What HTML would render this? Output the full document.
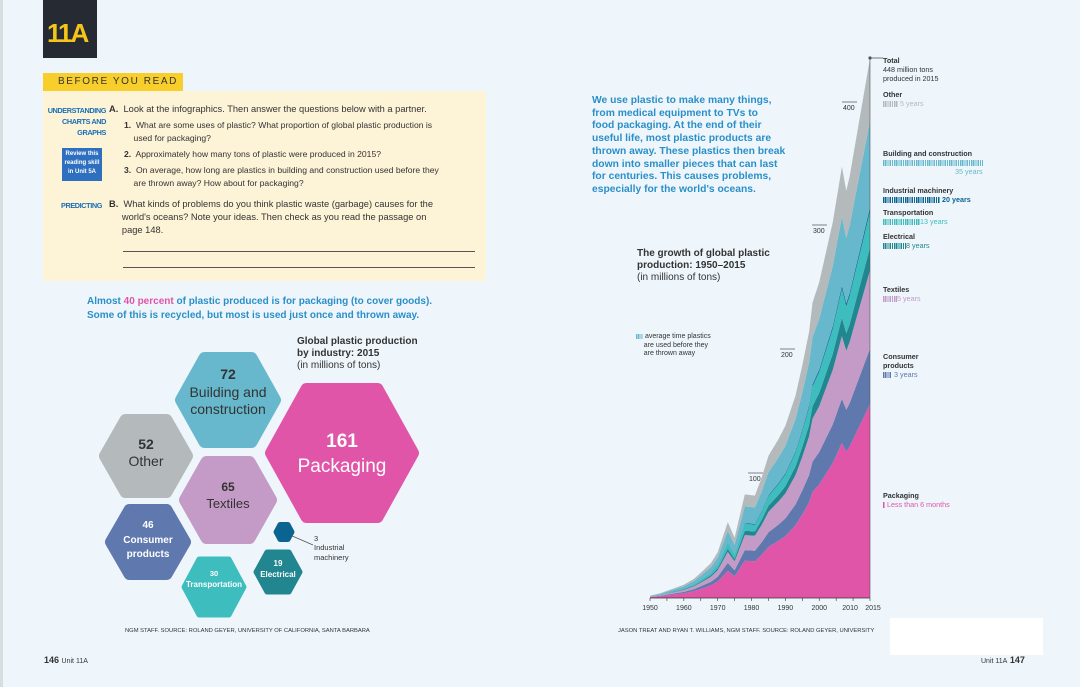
<!DOCTYPE html>
<html><head><meta charset="utf-8"><style>
body{margin:0;width:1080px;height:687px;overflow:hidden;background:#eef6fc;font-family:"Liberation Sans",sans-serif;position:relative}
.a{position:absolute;white-space:nowrap}
.lab{font-size:7.3px;color:#1a6fb5;font-weight:bold;text-align:right;letter-spacing:-0.4px;line-height:11px}
.q{font-size:9.3px;color:#333;line-height:13px}
.rl{font-size:7.2px;color:#333;font-weight:bold;line-height:9px}
.bar{display:inline-block;height:6px;vertical-align:middle;background:repeating-linear-gradient(90deg,currentColor 0 1.3px,transparent 1.3px 2.2px)}
</style></head><body>
<div class="a" style="left:0;top:0;width:3px;height:687px;background:#d8dde0"></div>
<div class="a" style="left:43px;top:0;width:54px;height:58px;background:#262a33"></div>
<div class="a" style="left:47px;top:18px;font-size:26px;font-weight:bold;color:#f5c518;letter-spacing:-2px">11A</div>
<div class="a" style="left:43px;top:73px;width:140px;height:18px;background:#f8cf2a"></div>
<div class="a" style="left:58px;top:76px;font-size:10px;letter-spacing:1.6px;color:#333">BEFORE YOU READ</div>
<div class="a" style="left:43px;top:91px;width:443px;height:190px;background:#fdf3d7"></div>
<div class="a lab" style="left:44px;top:105px;width:62px">UNDERSTANDING<br>CHARTS AND<br>GRAPHS</div>
<div class="a" style="left:62px;top:148px;width:40px;height:31px;background:#2f6fc0;color:#fff;font-size:6px;font-weight:bold;text-align:center;line-height:9px;padding-top:2px">Review this<br>reading skill<br>in Unit 5A</div>
<div class="a lab" style="left:44px;top:200px;width:58px">PREDICTING</div>
<div class="a q" style="left:109px;top:103px"><b>A.</b>&nbsp; Look at the infographics. Then answer the questions below with a partner.</div>
<div class="a q" style="left:124px;top:119px;font-size:8.6px;line-height:13px"><b>1.</b>&nbsp; What are some uses of plastic? What proportion of global plastic production is<br>&nbsp;&nbsp;&nbsp;&nbsp;used for packaging?</div>
<div class="a q" style="left:124px;top:148px;font-size:8.6px"><b>2.</b>&nbsp; Approximately how many tons of plastic were produced in 2015?</div>
<div class="a q" style="left:124px;top:164px;font-size:8.6px;line-height:13px"><b>3.</b>&nbsp; On average, how long are plastics in building and construction used before they<br>&nbsp;&nbsp;&nbsp;&nbsp;are thrown away? How about for packaging?</div>
<div class="a q" style="left:109px;top:198px"><b>B.</b>&nbsp; What kinds of problems do you think plastic waste (garbage) causes for the<br>&nbsp;&nbsp;&nbsp;&nbsp;&nbsp;world's oceans? Note your ideas. Then check as you read the passage on<br>&nbsp;&nbsp;&nbsp;&nbsp;&nbsp;page 148.</div>
<div class="a" style="left:123px;top:251px;width:352px;border-top:1px solid #555"></div>
<div class="a" style="left:123px;top:267px;width:352px;border-top:1px solid #555"></div>
<div class="a" style="left:87px;top:295px;font-size:10px;font-weight:bold;color:#2a8fc8;line-height:13.5px">Almost <span style="color:#e055a8">40 percent</span> of plastic produced is for packaging (to cover goods).<br>Some of this is recycled, but most is used just once and thrown away.</div>
<div class="a" style="left:297px;top:336px;font-size:10px;color:#333;line-height:12px"><b>Global plastic production<br>by industry: 2015</b><br>(in millions of tons)</div>
<svg class="a" style="left:0;top:0" width="1080" height="687" id="s">
<g stroke-linejoin="round" id="hex"></g>
<line x1="290" y1="535" x2="313" y2="545" stroke="#555" stroke-width="0.8"/>
<g font-family="Liberation Sans" text-anchor="middle">
<text x="228" y="379" font-size="14" font-weight="bold" fill="#333">72</text>
<text x="228" y="397" font-size="14" fill="#333">Building and</text>
<text x="228" y="414" font-size="14" fill="#333">construction</text>
<text x="146" y="449" font-size="14" font-weight="bold" fill="#333">52</text>
<text x="146" y="466" font-size="14" fill="#333">Other</text>
<text x="342" y="447" font-size="19" font-weight="bold" fill="#fff">161</text>
<text x="342" y="472" font-size="19" fill="#fff">Packaging</text>
<text x="228" y="491" font-size="12" font-weight="bold" fill="#333">65</text>
<text x="228" y="508" font-size="13" fill="#333">Textiles</text>
<text x="148" y="528" font-size="10" font-weight="bold" fill="#fff">46</text>
<text x="148" y="543" font-size="10" font-weight="bold" fill="#fff">Consumer</text>
<text x="148" y="557" font-size="10" font-weight="bold" fill="#fff">products</text>
<text x="214" y="576" font-size="7.5" font-weight="bold" fill="#fff">30</text>
<text x="214" y="587" font-size="8" font-weight="bold" fill="#fff">Transportation</text>
<text x="278" y="566" font-size="8" font-weight="bold" fill="#fff">19</text>
<text x="278" y="577" font-size="8" font-weight="bold" fill="#fff">Electrical</text>
</g>
<g font-family="Liberation Sans" font-size="7.5" fill="#333">
<text x="314" y="541">3</text><text x="314" y="550">Industrial</text><text x="314" y="560">machinery</text>
</g>
<g id="chart"></g>
</svg>
<div class="a" style="left:125px;top:628px;font-size:5.8px;color:#333">NGM STAFF. SOURCE: ROLAND GEYER, UNIVERSITY OF CALIFORNIA, SANTA BARBARA</div>
<div class="a" style="left:618px;top:628px;font-size:5.8px;color:#333">JASON TREAT AND RYAN T. WILLIAMS, NGM STAFF. SOURCE: ROLAND GEYER, UNIVERSITY</div>
<div class="a" style="left:890px;top:618px;width:153px;height:37px;background:#fff"></div>
<div class="a" style="left:44px;top:655px;font-size:9px;color:#333"><b>146</b> <span style="font-size:7px">Unit 11A</span></div>
<div class="a" style="left:981px;top:655px;font-size:9px;color:#333"><span style="font-size:7px">Unit 11A</span> <b>147</b></div>
<div class="a" style="left:592px;top:95px;font-size:10.3px;font-weight:bold;color:#2a8fc8;line-height:12.7px">We use plastic to make many things,<br>from medical equipment to TVs to<br>food packaging. At the end of their<br>useful life, most plastic products are<br>thrown away. These plastics then break<br>down into smaller pieces that can last<br>for centuries. This causes problems,<br>especially for the world's oceans.</div>
<div class="a" style="left:637px;top:248px;font-size:10px;color:#333;line-height:12px"><b>The growth of global plastic<br>production: 1950–2015</b><br>(in millions of tons)</div>
<div class="a" style="left:636px;top:333px;font-size:7px;color:#333;line-height:8.5px"><span class="bar" style="width:7px;color:#67b8cc;height:5px"></span> average time plastics<br>&nbsp;&nbsp;&nbsp;&nbsp;are used before they<br>&nbsp;&nbsp;&nbsp;&nbsp;are thrown away</div>
<div class="a rl" style="left:883px;top:56px">Total<br><span style="font-weight:normal">448 million tons<br>produced in 2015</span></div>
<div class="a rl" style="left:883px;top:90px">Other<br><span class="bar" style="width:15px;color:#b4babc"></span><span style="color:#b4babc;font-weight:normal"> 5 years</span></div>
<div class="a rl" style="left:883px;top:149px">Building and construction<br><span class="bar" style="width:100px;color:#67b8cc"></span><br><span style="color:#67b8cc;font-weight:normal;padding-left:72px">35 years</span></div>
<div class="a rl" style="left:883px;top:186px">Industrial machinery<br><span class="bar" style="width:57px;color:#0a6390"></span><span style="color:#0a6390"> 20 years</span></div>
<div class="a rl" style="left:883px;top:208px">Transportation<br><span class="bar" style="width:37px;color:#3dbdbd"></span><span style="color:#3dbdbd;font-weight:normal">13 years</span></div>
<div class="a rl" style="left:883px;top:232px">Electrical<br><span class="bar" style="width:23px;color:#21868f"></span><span style="color:#21868f;font-weight:normal">8 years</span></div>
<div class="a rl" style="left:883px;top:285px">Textiles<br><span class="bar" style="width:14px;color:#c49ac6"></span><span style="color:#c49ac6;font-weight:normal">5 years</span></div>
<div class="a rl" style="left:883px;top:352px">Consumer<br>products<br><span class="bar" style="width:9px;color:#5f78ae"></span><span style="color:#5f78ae;font-weight:normal"> 3 years</span></div>
<div class="a rl" style="left:883px;top:491px">Packaging<br><span class="bar" style="width:2px;color:#e055a8"></span><span style="color:#e055a8;font-weight:normal"> Less than 6 months</span></div>
<script>
var NS="http://www.w3.org/2000/svg";
function hex(cx,cy,w,h,c){var r=w/2,q=w/4,t=h/2;var p=[[cx-r,cy],[cx-q,cy-t],[cx+q,cy-t],[cx+r,cy],[cx+q,cy+t],[cx-q,cy+t]];var e=document.createElementNS(NS,"polygon");e.setAttribute("points",p.map(a=>a.join(",")).join(" "));e.setAttribute("fill",c);e.setAttribute("stroke",c);e.setAttribute("stroke-width",w>60?12:5);document.getElementById("hex").appendChild(e);}
hex(228,400,94,84,"#67b8cc");hex(146,456,82,72,"#b4babc");hex(342,453,142,128,"#e055a8");hex(228,500,86,76,"#c49ac6");hex(148,542,74,64,"#5f78ae");hex(214,587,60,56,"#3dbdbd");hex(278,572,44,40,"#21868f");hex(284,532,16,15,"#0a6390");
var D=[[1950,2],[1953,4],[1956,7],[1960,11],[1963,16],[1965,21],[1968,29],[1970,38],[1973,63],[1975,50],[1978,86],[1981,85],[1983,100],[1985,118],[1988,132],[1990,143],[1993,168],[1995,193],[1997,221],[1998,245],[2000,262],[2002,287],[2004,312],[2006.7,358],[2008,338],[2009,350],[2011,383],[2013,415],[2015,448]];
var F=[["#e055a8",161],["#5f78ae",46],["#c49ac6",65],["#21868f",19],["#3dbdbd",30],["#0a6390",3],["#67b8cc",72],["#b4babc",52]];
function X(y){return 650+(y-1950)*220/65}function Y(v){return 598-v*1.205}
var g=document.getElementById("chart"),cum=0;
F.forEach(function(f){var lo=cum;cum+=f[1];var hi=cum;var top=D.map(d=>X(d[0]).toFixed(1)+","+Y(d[1]*hi/448).toFixed(1));var bot=D.slice().reverse().map(d=>X(d[0]).toFixed(1)+","+Y(d[1]*lo/448).toFixed(1));var e=document.createElementNS(NS,"polygon");e.setAttribute("points",top.concat(bot).join(" "));e.setAttribute("fill",f[0]);g.appendChild(e);});
var s='<line x1="650" y1="598" x2="870" y2="598" stroke="#333" stroke-width="0.8"/><line x1="870" y1="598" x2="870" y2="58" stroke="#555" stroke-width="0.6"/><line x1="870" y1="58" x2="883" y2="58" stroke="#555" stroke-width="0.8"/><circle cx="870" cy="58" r="1.6" fill="#555"/>';
for(var yr=1950;yr<=2015;yr+=5){s+='<line x1="'+X(yr)+'" y1="598" x2="'+X(yr)+'" y2="601" stroke="#333" stroke-width="0.6"/>';}
[[1950,0],[1960,0],[1970,0],[1980,0],[1990,0],[2000,0],[2010,-3],[2015,3]].forEach(function(a){s+='<text x="'+(X(a[0])+a[1])+'" y="610" font-size="7" text-anchor="middle" fill="#333" font-family="Liberation Sans">'+a[0]+'</text>';});
[[100,763,481],[200,795,357],[300,827,233],[400,857,110]].forEach(function(t){s+='<line x1="'+(t[1]-15)+'" y1="'+(t[2]-8)+'" x2="'+t[1]+'" y2="'+(t[2]-8)+'" stroke="#333" stroke-width="0.6"/><text x="'+(t[1]-14)+'" y="'+t[2]+'" font-size="7" fill="#333" font-family="Liberation Sans">'+t[0]+'</text>';});
g.insertAdjacentHTML("beforeend",s);
</script>
</body></html>
